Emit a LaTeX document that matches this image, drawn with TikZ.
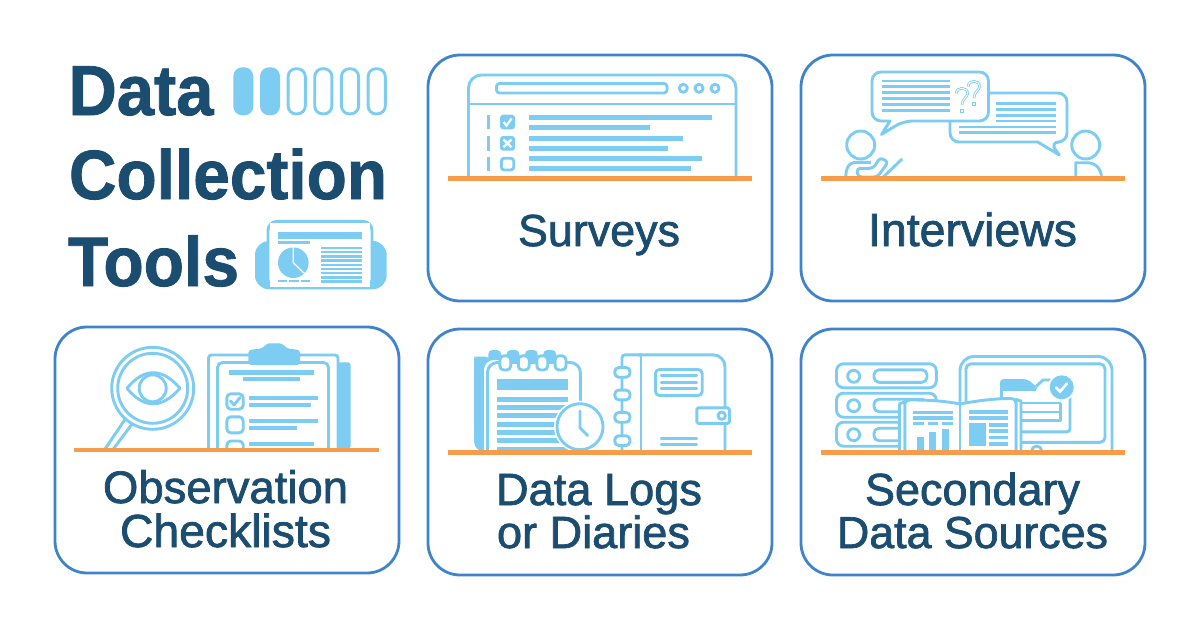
\documentclass[tikz,border=0pt]{standalone}
\usepackage{graphicx}
\usepackage{fontspec}
\setmainfont{Liberation Sans}
\newfontfamily\titlefont[FakeBold=1.2]{Liberation Sans Bold}
\newfontfamily\labelfont[FakeBold=1.6]{Liberation Sans}
\definecolor{lightb}{HTML}{7DCDF3}
\definecolor{darkb}{HTML}{1B4D70}
\definecolor{orangeb}{HTML}{F79C4A}
\definecolor{edgeb}{HTML}{3F83CB}
\newcommand{\fitw}[2]{\resizebox{#1pt}{!}{#2}}
\newcommand{\fitt}[2]{\scalebox{1}[1.06]{\resizebox{#1pt}{!}{#2}}}
\tikzset{
  cardbox/.style={draw=edgeb,line width=2.8pt,fill=white,rounded corners=32pt},
  ico/.style={draw=lightb,line width=2.9pt,line join=round},
  icow/.style={ico,fill=white},
  solidb/.style={fill=lightb,draw=none},
  shelf/.style={fill=orangeb,draw=none},
  ttl/.style={anchor=base west,inner sep=0pt,outer sep=0pt,text=darkb,font=\titlefont\fontsize{70}{70}\selectfont},
  lbl/.style={anchor=base west,inner sep=0pt,outer sep=0pt,text=darkb,font=\labelfont\fontsize{38}{38}\selectfont},
}
\begin{document}
\begin{tikzpicture}[x=1pt,y=-1pt]
\useasboundingbox (0,0) rectangle (1200,630);
\fill[white] (0,0) rectangle (1200,630);
% cards
\draw[cardbox] (428,55) rectangle (772,301);
\draw[cardbox] (801,55) rectangle (1145,301);
\draw[cardbox] (55,327) rectangle (399,573);
\draw[cardbox] (428,329) rectangle (772,575);
\draw[cardbox] (801,329) rectangle (1145,575);
% title
\node[ttl] (t1) at (68.5,115) {\fitt{145}{Data}};
\node[ttl] (t2) at (69,199) {\fitt{318}{Collection}};
\node[ttl] (t3) at (68,286) {\fitt{171}{Tools}};
% pills
\fill[lightb,rounded corners=9pt] (233.3,67.3) rectangle (253.3,115.3);
\fill[lightb,rounded corners=9pt] (260,67.3) rectangle (280,115.3);
\foreach \a in {286.7,313.3,340,366.7}
  \draw[ico,rounded corners=8pt] (\a+1.4,68.7) rectangle (\a+18.6,113.9);
% tablet
\fill[lightb,rounded corners=14pt] (255,241) rectangle (386.7,289.3);
\draw[icow,rounded corners=9pt] (268,280) -- (268,221.4) -- (372,221.4) -- (372,280);
\fill[white] (270,223) rectangle (370,286.7);
\fill[lightb] (277.7,232.3) rectangle (361.7,239.3);
\fill[lightb] (277.7,241.3) rectangle (310,244);
\fill[lightb] (293.3,262.7) circle (15.3pt);
\draw[white,line width=1.3pt] (293.3,246.5) -- (293.3,262.7) -- (306,275);
\foreach \a in {246.7,250.9,255.1,259.3,263.5,267.7,271.9,276.1,280.3}
  \fill[lightb] (320.7,\a) rectangle (361.7,\a+2.4);
\foreach \a/\b in {277.7/287.3,289.3/299.3,300.7/310}
  \fill[lightb] (\a,280.3) rectangle (\b,282.3);
% ---------- surveys
\draw[ico,rounded corners=13pt] (468.5,185) -- (468.5,75) -- (736,75) -- (736,185);
\draw[ico] (468.5,104) -- (736,104);
\draw[ico,rounded corners=3pt] (496.5,83.5) rectangle (667,93);
\foreach \a in {683.3,699,715} \draw[ico] (\a,88.3) circle (4pt);
\foreach \a/\b in {115/129.3,136/150.7,156.7/171.3} \draw[lightb,line width=2.6pt] (488.3,\a) -- (488.3,\b);
\fill[lightb,rounded corners=3pt] (500,114.7) rectangle (515,129.3);
\draw[white,line width=2.2pt] (503.5,122) -- (506.5,125.5) -- (511.5,118.5);
\fill[lightb,rounded corners=3pt] (500,136) rectangle (515,150.7);
\draw[white,line width=2.4pt] (503.5,139.5) -- (511.5,147.2) (511.5,139.5) -- (503.5,147.2);
\draw[ico,rounded corners=3pt] (501.3,158.2) rectangle (513.7,170);
\foreach \a/\b/\c in {114.7/120/711.7,124.7/129.7/650,136/141/683.3,146/151/668.3,156.3/161.3/701.7,166.3/171.3/691}
  \fill[lightb] (529,\a) rectangle (\c,\b);
% ---------- interviews
\draw[icow,rounded corners=9pt] (950,93) -- (1067,93) -- (1067,142) -- (1050,142) [sharp corners] -- (1059.3,155) -- (1037.7,142) [rounded corners=9pt] -- (950,142) -- cycle;
\draw[icow,rounded corners=9pt] (872,72) -- (988.5,72) -- (988.5,121) -- (903.3,121) [sharp corners] -- (881.5,134.5) -- (890,121) [rounded corners=9pt] -- (872,121) -- cycle;
\foreach \a in {81,86.7,92.7,98.7,104.3,110.7} \draw[lightb,line width=2.8pt] (881.7,\a) -- (950,\a);
\foreach \a in {103.3,109.3,115.3,121} \draw[lightb,line width=2.8pt] (996,\a) -- (1056,\a);
\foreach \a in {127,132.7} \draw[lightb,line width=2.8pt] (959.3,\a) -- (1056,\a);
\foreach \a/\b in {0/0,12/-7} {
  \begin{scope}[shift={(\a pt,-\b pt)}]
  \draw[lightb,line width=2.6pt] (956.2,93.5) .. controls (956.2,86.5) and (967.6,86.5) .. (967.6,93.5) .. controls (967.6,97.5) and (962,98.5) .. (962,105);
  \draw[white,line width=.9pt] (956.2,93.5) .. controls (956.2,86.5) and (967.6,86.5) .. (967.6,93.5) .. controls (967.6,97.5) and (962,98.5) .. (962,105);
  \draw[lightb,line width=1pt] (960.3,109.3) rectangle (963.7,112.7);
  \end{scope}
}
\draw[ico] (860.7,145) circle (14pt);
\draw[ico] (845.7,180) .. controls (845.7,170) and (847,162.3) .. (857,162.3) -- (871,162.3);
\draw[icow,rounded corners=3.5pt] (856.7,168.3) -- (873.3,168.3) -- (880,157.5) -- (888.3,162) -- (877.3,177) -- (858,177) -- cycle;
\draw[ico,line cap=round] (883.3,177) -- (901.7,159.3);
\draw[ico] (1085.7,145) circle (14pt);
\draw[ico] (1075.7,180) -- (1075.7,162.7) -- (1086.7,162.7) .. controls (1097,162.7) and (1101.7,170) .. (1101.7,180);
% ---------- observation
\draw[ico] (152.7,388.3) circle (41pt);
\draw[ico] (152.7,388.3) circle (35pt);
\draw[ico] (127,388.3) .. controls (144,367.5) and (162,367.5) .. (180,388.3) .. controls (162,409) and (144,409) .. (127,388.3) -- cycle;
\draw[ico] (152.7,388.3) circle (13.5pt);
\draw[ico] (125,419.5) -- (105,449) (131.7,424.5) -- (113.3,449);
\fill[lightb,rounded corners=3pt] (330,362.3) rectangle (350.7,449);
\draw[icow,rounded corners=3pt] (208.5,450) -- (208.5,355) -- (338,355) -- (338,450);
\draw[icow,rounded corners=5pt] (217.5,450) -- (217.5,362.5) -- (328.5,362.5) -- (328.5,450);
\fill[lightb,rounded corners=3pt] (248.3,365) -- (248.3,350) -- (262,348.5) -- (267,343.3) -- (282,343.3) -- (287,348.5) -- (300,350) -- (300,365) -- cycle;
\fill[lightb] (229,370) rectangle (314,375);
\fill[lightb] (242.7,376.7) rectangle (300,381.3);
\draw[ico,rounded corners=4pt] (226.8,393.8) rectangle (243.2,409.2);
\draw[ico,line cap=round] (230.5,401) -- (234,405) -- (240,397.5);
\draw[ico,rounded corners=4pt] (226.8,416.8) rectangle (243.2,432.8);
\draw[ico,rounded corners=4pt] (226.8,452) -- (226.8,441) -- (243.2,441) -- (243.2,452);
\foreach \a/\b/\c in {395.7/400/317.7,403.3/406.7/311,419/423.3/317.7,426.3/430.3/297.3,442.3/446/314}
  \fill[lightb] (249.3,\a) rectangle (\c,\b);
% ---------- logs
\fill[lightb,rounded corners=11pt] (474,367) .. controls (474,360) and (478,356.7) .. (485,356.7) -- (495,356.7) -- (495,452) -- (474,452) -- cycle;
\foreach \a in {488.3,506.7,525,543.3}
  \fill[lightb,rounded corners=4pt] (\a,350) rectangle (\a+12.7,362);
\draw[white,fill=white,line width=1pt] (484.5,452) -- (484.5,372) .. controls (484.5,364) and (488,360.5) .. (496,360.5) -- (500,360.5) -- (500,452) -- cycle;
\draw[icow,rounded corners=10pt] (487.5,455) -- (487.5,362.5) -- (580.3,362.5) -- (580.3,455);
\foreach \a in {499,517.5,536,554.3}
  \draw[icow,rounded corners=4pt] (\a+.8,355.8) rectangle (\a+11.7,370);
\fill[lightb] (496.7,379) rectangle (568.3,390);
\foreach \a in {396.7,405,413.3,421.7,430,438.3,447}
  \fill[lightb] (496.7,\a) rectangle (568.3,\a+5);
\fill[white] (580,426.7) circle (26pt);
\draw[icow] (580,426.7) circle (23pt);
\draw[ico,line cap=round] (580,411) -- (580,427.7) -- (587.7,435.7);
% binder
\draw[ico,rounded corners=3pt] (622,455) -- (622,354.8) -- (641,354.8);
\draw[ico] (641,455) -- (641,354.8);
\draw[ico,rounded corners=12pt] (638,354.8) -- (725,354.8) -- (725,455);
\foreach \a in {366.7,389.3,411.7,435}
  \draw[icow,rounded corners=4pt] (614.8,\a+.8) rectangle (630,\a+10.5);
\draw[ico,rounded corners=4pt] (655.5,369.5) rectangle (702.2,395.5);
\foreach \a in {375.7,382.3,388.3,438.3,444.3} \draw[lightb,line width=2.5pt,line cap=round] (661,\a) -- (696.7,\a);
\draw[icow,rounded corners=1.5pt] (696.8,407.8) rectangle (729.3,423.4);
\draw[ico] (721.7,415.7) circle (3.7pt);
% ---------- secondary
\foreach \a in {363.3,392.7,421.7} {
  \draw[ico,rounded corners=7pt] (836.5,\a+.5) rectangle (936.3,\a+24.5);
  \draw[ico] (853.7,\a+13) circle (6pt);
  \draw[ico,rounded corners=5pt] (874,\a+6.5) rectangle (927,\a+19);
}
\draw[ico,rounded corners=14pt] (960,456) -- (960,356.5) -- (1112,356.5) -- (1112,456);
\draw[ico,rounded corners=5pt] (966,363.8) rectangle (1105,442.3);
\draw[ico] (1036.7,451) circle (5pt);
\fill[lightb,rounded corners=3.5pt] (1000,396) -- (1000,379) -- (1027,379) -- (1037,387) -- (1037,390) -- (1000,390) -- cycle;
\fill[lightb] (1000,385) rectangle (1030,390);
\draw[ico] (1036,386.5) -- (1043,380) -- (1056,380);
\draw[ico,rounded corners=3pt] (1070,385) -- (1070,431.8) -- (1020,431.8);
\draw[ico] (1036,390) -- (1001.3,390) -- (1001.3,400);
\foreach \a in {403,412,420.7} \draw[ico] (1020,\a) -- (1060.7,\a);
\draw[ico] (1060.7,403) -- (1060.7,420.7);
\fill[white] (1061.7,387.3) circle (14pt);
\fill[lightb] (1061.7,387.3) circle (12pt);
\draw[white,line width=2.6pt,line cap=round] (1056,387.5) -- (1060,391.5) -- (1067,383.5);
% book
\draw[icow] (899.5,456) -- (899.5,404) -- (905,401.5) -- (905,456);
\draw[icow] (1021,456) -- (1021,401) -- (1016,399.5) -- (1016,456);
\draw[icow] (905,456) -- (905,404) .. controls (905,400) and (908,400) .. (912,400) .. controls (930,400) and (945,401) .. (960,404) .. controls (975,401) and (995,398.5) .. (1010,398.5) .. controls (1016,398.5) and (1016,402) .. (1016,404) -- (1016,456) -- cycle;
\draw[ico] (960,404) -- (960,456);
\foreach \a/\b in {410.6/414.2,416/420.3} \fill[lightb] (913.3,\a) rectangle (952.7,\b);
\foreach \a/\b in {913.3/924,927.7/938.3,941.7/952.7} \fill[lightb] (\a,421.7) rectangle (\b,424.5);
\foreach \a/\b in {917/437.3,929/432.3,941.7/429} \fill[lightb] (\a,\b) rectangle (\a+7.3,452);
\foreach \a/\b in {410/413.5,415.7/419.7} \fill[lightb] (969.3,\a) rectangle (1008,\b);
\fill[lightb] (969.3,423.3) rectangle (986,445.7);
\foreach \a/\b in {423.3/426.7,429.3/433.3,435.7/439.3,441.7/445.7} \fill[lightb] (989.3,\a) rectangle (1008,\b);
% shelves
\fill[shelf] (448,176.3) rectangle (752,181);
\fill[shelf] (821,176.3) rectangle (1125,181);
\fill[shelf] (74,447.8) rectangle (379,452.4);
\fill[shelf] (448,450) rectangle (752,454.5);
\fill[shelf] (821,450) rectangle (1125,454.5);
\fill[white] (440,181) rectangle (760,186);
\fill[white] (815,181) rectangle (1130,186);
\fill[white] (70,452.4) rectangle (385,457);
\fill[white] (440,454.5) rectangle (760,459);
\fill[white] (815,454.5) rectangle (1130,459);
% labels
\node[lbl] (a1) at (518,246) {\fitw{162}{Surveys}};
\node[lbl] (a2) at (868,246) {\fitw{209}{Interviews}};
\node[lbl] (a3) at (103,503) {\fitw{245}{Observation}};
\node[lbl] (a4) at (120,547) {\fitw{211}{Checklists}};
\node[lbl] (a5) at (496,505) {\fitw{206}{Data Logs}};
\node[lbl] (a6) at (497,548) {\fitw{193}{or Diaries}};
\node[lbl] (a7) at (865,505) {\fitw{215}{Secondary}};
\node[lbl] (a8) at (837,548) {\fitw{271}{Data Sources}};
\end{tikzpicture}
\end{document}
